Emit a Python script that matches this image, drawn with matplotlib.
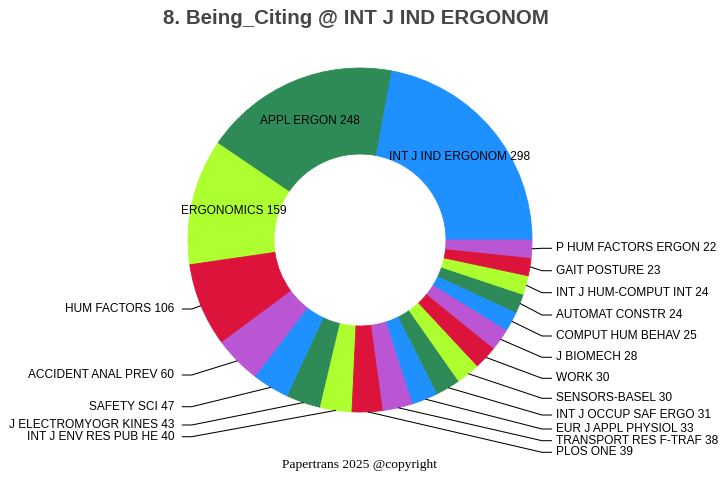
import numpy as np
import matplotlib.pyplot as plt

# journals cited by INT J IND ERGONOM papers
journals = ['INT J IND ERGONOM', 'APPL ERGON', 'ERGONOMICS', 'HUM FACTORS',
            'ACCIDENT ANAL PREV', 'SAFETY SCI', 'J ELECTROMYOGR KINES',
            'INT J ENV RES PUB HE', 'PLOS ONE', 'TRANSPORT RES F-TRAF',
            'EUR J APPL PHYSIOL', 'INT J OCCUP SAF ERGO', 'SENSORS-BASEL',
            'WORK', 'J BIOMECH', 'COMPUT HUM BEHAV', 'AUTOMAT CONSTR',
            'INT J HUM-COMPUT INT', 'GAIT POSTURE', 'P HUM FACTORS ERGON']
counts = [298, 248, 159, 106, 60, 47, 43, 40, 39, 38,
          33, 31, 30, 30, 28, 25, 24, 24, 23, 22]

palette = ['#1E90FF', '#2E8B57', '#ADFF2F', '#DC143C', '#BA55D3']

# label heights (pixels from top) for the outside labels, in slice order
outer_label_px = {3: 309, 4: 375, 5: 406.7, 6: 425, 7: 436.7,
                  8: 452.3, 9: 440.7, 10: 429, 11: 415, 12: 398.3,
                  13: 378.3, 14: 357.3, 15: 336, 16: 315, 17: 292.7,
                  18: 270.7, 19: 248.3}

W, H = 720, 480
cx, cy, R = 360, 240, 172  # pie centre and radius in pixels

plt.rcParams['font.family'] = ['Liberation Sans', 'DejaVu Sans']

fig = plt.figure(figsize=(W / 100, H / 100), dpi=100)
ax = fig.add_axes([0, 0, 1, 1])

colors = [palette[i % len(palette)] for i in range(len(counts))]
wedges, _ = ax.pie(counts, colors=colors, startangle=0, counterclock=True,
                   radius=1.0,
                   wedgeprops=dict(width=0.5, linewidth=0.6, antialiased=True))
for w, c in zip(wedges, colors):
    w.set_edgecolor(c)

ax.set_xlim(-cx / R, (W - cx) / R)
ax.set_ylim(-(H - cy) / R, cy / R)
ax.set_aspect('equal')
ax.axis('off')

fs = 8.6
for i, w in enumerate(wedges):
    mid = np.deg2rad((w.theta1 + w.theta2) / 2)
    label = f'{journals[i]} {counts[i]}'
    if i not in outer_label_px:
        ax.text(0.75 * np.cos(mid), 0.75 * np.sin(mid), label,
                ha='center', va='center', fontsize=fs, color='black')
        continue
    x0, y0 = np.cos(mid), np.sin(mid)
    ly = (cy - outer_label_px[i]) / R
    if x0 >= 0:
        knee, end, tx, ha = 1.058, 1.116, 1.14, 'left'
    else:
        knee, end, tx, ha = -0.978, -1.036, -1.08, 'right'
    ax.plot([x0, knee, end], [y0, ly, ly], color='black', lw=0.75,
            solid_capstyle='butt')
    ax.text(tx, ly, label, ha=ha, va='center', fontsize=fs, color='black')

fig.text(356 / W, 1 - 18 / H, '8. Being_Citing @ INT J IND ERGONOM',
         ha='center', va='center', fontsize=14.8, fontweight='bold',
         color='#464646')
fig.text(0.5, 1 - 465 / H, 'Papertrans 2025 @copyright', ha='center',
         va='center', fontsize=9.7, family=['Liberation Serif', 'DejaVu Serif'],
         color='black')

fig.savefig('out.png', dpi=100)
